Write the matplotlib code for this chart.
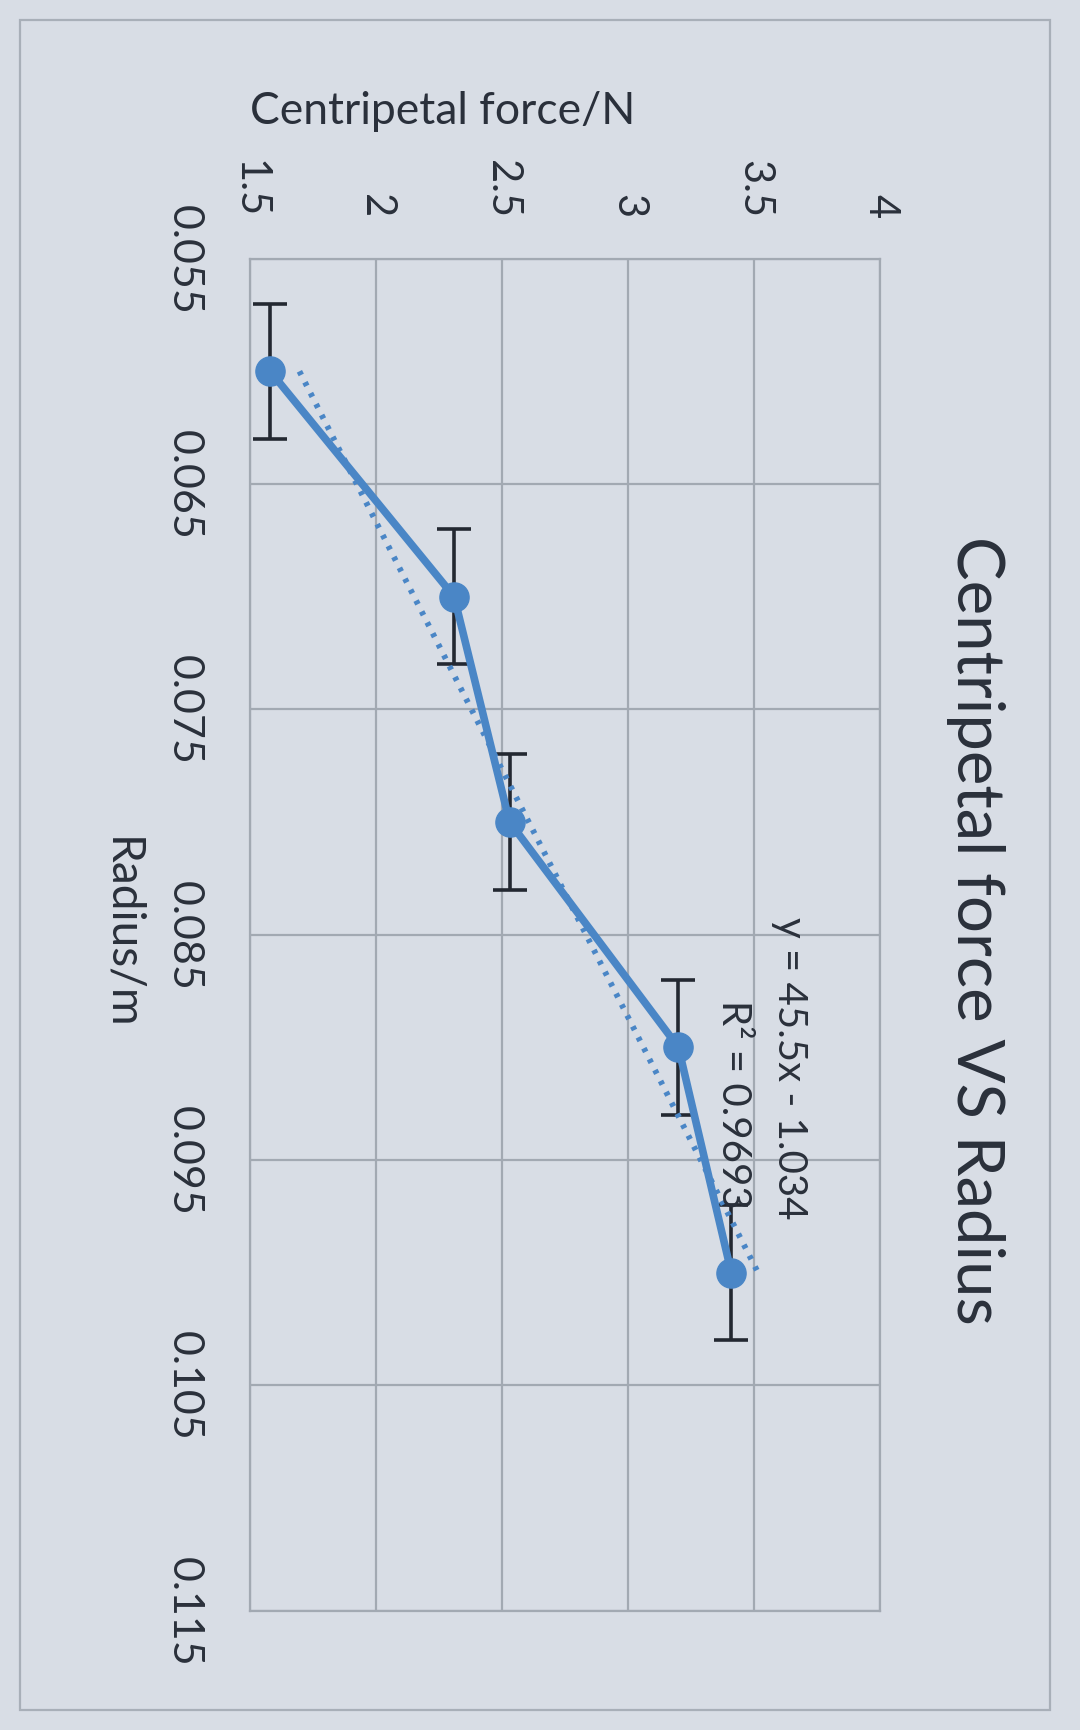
import numpy as np
import matplotlib
matplotlib.use("Agg")
import matplotlib.pyplot as plt
from matplotlib.patches import Rectangle

plt.rcParams['font.family'] = ['Lato', 'DejaVu Sans']

radius = [0.06, 0.07, 0.08, 0.09, 0.10]
force = [1.58, 2.31, 2.53, 3.20, 3.41]
radius_err = [0.003, 0.003, 0.003, 0.003, 0.003]
slope, intercept = 45.5, -1.034
force_ticks = [1.5, 2, 2.5, 3, 3.5, 4]
force_labels = ["1.5", "2", "2.5", "3", "3.5", "4"]
radius_ticks = [0.055, 0.065, 0.075, 0.085, 0.095, 0.105, 0.115]
radius_labels = ["0.055", "0.065", "0.075", "0.085", "0.095", "0.105", "0.115"]

BG = "#d8dde5"
TXT = "#2a303b"
GRID = "#a2a9b2"
BLUE = "#4a86c6"

fig = plt.figure(figsize=(10.8, 17.31), dpi=100, facecolor=BG)
# chart is photographed turned 90 deg clockwise: force runs left->right, radius top->bottom
ax = fig.add_axes([0.2315, 0.069, 0.5833, 0.781], facecolor=BG)

ax.errorbar(force, radius, yerr=radius_err, fmt='none', ecolor="#232831",
            elinewidth=2.6, capsize=12, capthick=2.6, zorder=2)
r_line = np.array([min(radius), max(radius)])
ax.plot(slope * r_line + intercept, r_line, linestyle=(0, (0.7, 1.4)),
        color=BLUE, lw=4.2, zorder=2.5)
ax.plot(force, radius, '-o', color=BLUE, lw=5.5, ms=21, zorder=3)

ax.set_xlim(1.5, 4)
ax.set_ylim(0.115, 0.055)
ax.xaxis.tick_top()
ax.set_xticks(force_ticks)
ax.set_xticklabels(force_labels, rotation=-90, va='bottom', ha='center')
ax.set_yticks(radius_ticks)
ax.set_yticklabels(radius_labels, rotation=-90, va='center', ha='right')
ax.tick_params(axis='x', length=0, pad=30, labelsize=30, labelcolor=TXT)
ax.tick_params(axis='y', length=0, pad=34, labelsize=31, labelcolor=TXT)
ax.grid(True, color=GRID, lw=1.6)
ax.set_axisbelow(True)
for s in ax.spines.values():
    s.set_color(GRID)
    s.set_linewidth(1.6)

ax.text(3.64, 0.0976, "y = 45.5x - 1.034", rotation=-90, ha='center', va='bottom',
        fontsize=29, color=TXT, zorder=4)
ax.text(3.42, 0.0971, "R² = 0.9693", rotation=-90, ha='center', va='bottom',
        fontsize=29, color=TXT, zorder=4)

fig.text(975 / 1080, 1 - 930 / 1731, "Centripetal force VS Radius", rotation=-90,
         ha='center', va='center', fontsize=47, color=TXT)
fig.text(121 / 1080, 1 - 933 / 1731, "Radius/m", rotation=-90,
         ha='center', va='center', fontsize=33, color=TXT)
fig.text(250 / 1080, 1 - 112 / 1731, "Centripetal force/N",
         ha='left', va='center', fontsize=32, color=TXT)

# chart area border
fig.patches.append(Rectangle((20 / 1080, 20 / 1731), 1030 / 1080, 1690 / 1731,
                             transform=fig.transFigure, fill=False,
                             edgecolor="#a8afb8", lw=1.6))

fig.savefig("out.png", dpi=100, facecolor=BG)
